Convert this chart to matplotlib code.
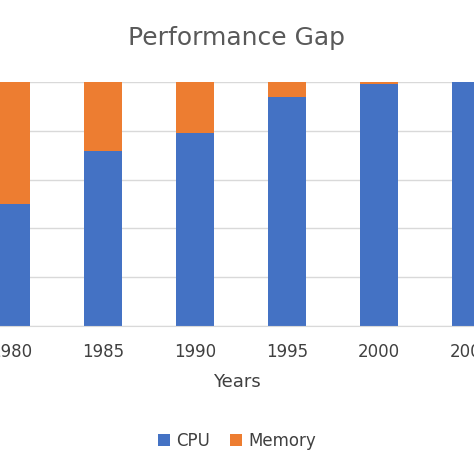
import matplotlib.pyplot as plt
import numpy as np

years = ["1980", "1985", "1990", "1995", "2000", "2005"]
cpu = [0.50, 0.717, 0.79, 0.94, 0.99, 1.0]
memory = [0.50, 0.283, 0.21, 0.06, 0.01, 0.0]

W, H = 474, 474
fig = plt.figure(figsize=(W / 100, H / 100), dpi=100)
ax = fig.add_axes([0, (H - 326) / H, 1, (326 - 82) / H])

x = np.arange(len(years))
ax.bar(x, cpu, width=0.41, color="#4472C4", label="CPU", zorder=2)
ax.bar(x, memory, width=0.41, bottom=cpu, color="#ED7D31", label="Memory", zorder=2)

ax.set_xlim(-0.12, 5.03)
ax.set_ylim(0, 1)
ax.set_yticks(np.arange(0, 1.01, 0.2))
ax.yaxis.grid(True, color="#D9D9D9", linewidth=1, zorder=0)
ax.tick_params(axis="y", left=False, labelleft=False)
ax.tick_params(axis="x", length=0, pad=12, labelsize=12, labelcolor="#404040")
ax.set_xticks(x)
ax.set_xticklabels(years)
for s in ["top", "right", "left"]:
    ax.spines[s].set_visible(False)
ax.spines["bottom"].set_color("#D9D9D9")

ax.set_xlabel("Years", fontsize=13, color="#404040", labelpad=9)
fig.text(0.5, 1 - 38 / H, "Performance Gap", ha="center", va="center",
         fontsize=18, color="#595959")
fig.legend(loc="center", bbox_to_anchor=(0.5, 1 - 441 / H), ncol=2, frameon=False,
           fontsize=12, labelcolor="#404040", handlelength=0.7, handleheight=0.7,
           columnspacing=1.2, handletextpad=0.4)

fig.savefig("out.png", dpi=100)
